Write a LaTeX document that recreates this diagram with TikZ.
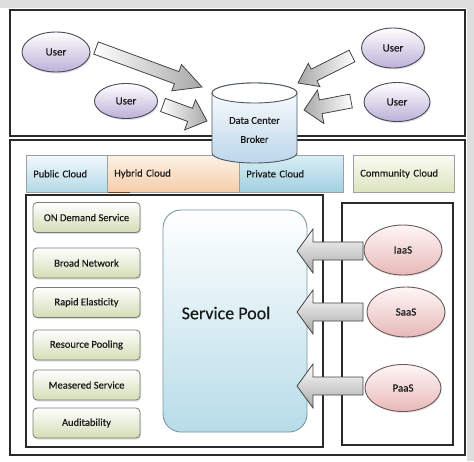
\documentclass[tikz,border=0pt]{standalone}
\usepackage{fontspec}
\setmainfont{Carlito}[FakeBold=0.35]
\usetikzlibrary{calc,shadows,shapes.geometric}
\definecolor{bggray}{HTML}{DEDEDE}
\definecolor{framec}{HTML}{2A2A2A}
\definecolor{txt}{HTML}{1A1A1A}
\definecolor{userbot}{HTML}{BCB0D8}
\definecolor{ellc}{HTML}{4A4A58}
\definecolor{svctop}{HTML}{FFF6F6}
\definecolor{svcbot}{HTML}{E8B8B8}
\definecolor{svcline}{HTML}{6A5A5A}
\definecolor{btnbot}{HTML}{D3DDB5}
\definecolor{btnline}{HTML}{7C7C74}
\definecolor{cloudline}{HTML}{9AA0A4}
\definecolor{pubtop}{HTML}{F2F9FC}
\definecolor{pubbot}{HTML}{B3D9E8}
\definecolor{hybtop}{HTML}{FDF1E6}
\definecolor{hybbot}{HTML}{F6CDA8}
\definecolor{privtop}{HTML}{D8EEF5}
\definecolor{privbot}{HTML}{A2D0E0}
\definecolor{comtop}{HTML}{FBFBF2}
\definecolor{combot}{HTML}{DCE4BE}
\definecolor{cylbot}{HTML}{BCD6EA}
\definecolor{cylline}{HTML}{4E5862}
\definecolor{poolbot}{HTML}{B7DCE8}
\definecolor{poolline}{HTML}{7A98A4}
\definecolor{arrgray}{HTML}{A8A8A8}
\definecolor{arrline}{HTML}{444444}
\newdimen\badx
\newdimen\bady
% block arrow from named coordinate #2 to named coordinate #3
% #4 shaft half width, #5 head half width, #6 head length
\newcommand\blockarrow[6]{%
  \pgfmathanglebetweenpoints{\pgfpointanchor{#2}{center}}{\pgfpointanchor{#3}{center}}%
  \let\baang\pgfmathresult
  \pgfextractx{\badx}{\pgfpointdiff{\pgfpointanchor{#2}{center}}{\pgfpointanchor{#3}{center}}}%
  \pgfextracty{\bady}{\pgfpointdiff{\pgfpointanchor{#2}{center}}{\pgfpointanchor{#3}{center}}}%
  \pgfmathsetmacro\balen{veclen(\badx,\bady)}%
  \begin{scope}[shift={(#2)}, rotate=\baang]
    \path[#1] (0,-#4) -- ({\balen-#6},-#4) -- ({\balen-#6},-#5) -- (\balen,0)
      -- ({\balen-#6},#5) -- ({\balen-#6},#4) -- (0,#4) -- cycle;
  \end{scope}}
\begin{document}
\begin{tikzpicture}[x=1pt,y=-1pt,
  frame/.style={draw=framec, line width=1.4pt},
  innerbox/.style={draw=framec, line width=1.1pt},
  userell/.style={ellipse, draw=ellc, line width=0.9pt, top color=white, bottom color=userbot,
    text=txt, font=\fontsize{11}{13}\selectfont, inner sep=0pt,
    drop shadow={opacity=0.25, shadow xshift=1pt, shadow yshift=-1.5pt}},
  svcell/.style={ellipse, draw=svcline, line width=0.9pt, top color=svctop, bottom color=svcbot,
    text=txt, font=\fontsize{11}{13}\selectfont, inner sep=0pt,
    drop shadow={opacity=0.2, shadow xshift=1pt, shadow yshift=-1.5pt}},
  btn/.style={rectangle, rounded corners=4pt, draw=btnline, line width=0.8pt, top color=white,
    bottom color=btnbot, minimum width=107pt, minimum height=30pt, inner sep=0pt,
    text=txt, font=\fontsize{10.5}{12}\selectfont,
    drop shadow={opacity=0.25, shadow xshift=1pt, shadow yshift=-1.5pt}},
  cloudseg/.style={rectangle, draw=cloudline, line width=0.6pt, anchor=north west,
    minimum height=37pt, inner xsep=7pt, inner ysep=0pt, align=left, text=txt,
    font=\fontsize{10.5}{12}\selectfont},
  arrR/.style={draw=arrline, line width=0.8pt, left color=white, right color=arrgray},
  arrL/.style={draw=arrline, line width=0.8pt, left color=arrgray, right color=white},
  arrS/.style={draw=arrline, line width=0.8pt, top color=white, bottom color=arrgray},
]
\useasboundingbox (0,0) rectangle (474,461);
\fill[white] (0,0) rectangle (474,461);
\fill[bggray] (0,0) rectangle (474,8);
\fill[bggray] (467,0) rectangle (474,461);

% frames
\draw[frame] (10,10) rectangle (465,136);
\draw[frame] (10,140) rectangle (465,455);
\draw[innerbox] (26,195) rectangle (323,447);
\draw[innerbox] (342,203) rectangle (453,445);

% cloud bar
\node[cloudseg, top color=pubtop, bottom color=pubbot, minimum width=81pt, text width=67pt] (pub) at (26,155) {Public Cloud};
\node[cloudseg, top color=hybtop, bottom color=hybbot, minimum width=132pt, text width=118pt] (hyb) at (107,155) {Hybrid Cloud};
\node[cloudseg, top color=privtop, bottom color=privbot, minimum width=104pt, text width=90pt] (priv) at (239,155) {Private Cloud};
\node[cloudseg, top color=comtop, bottom color=combot, minimum width=101pt, text width=87pt] (com) at (353,155) {Community Cloud};
\draw[brown!55!black, line width=1.5pt] (108,192.5) -- (130,192.5);

% users
\node[userell, minimum width=68pt, minimum height=40pt] (u1) at (56,52) {User};
\node[userell, minimum width=63pt, minimum height=35pt] (u2) at (126,101) {User};
\node[userell, minimum width=63pt, minimum height=40pt] (u3) at (393,48) {User};
\node[userell, minimum width=66pt, minimum height=39pt] (u4) at (397,102) {User};

% broker cylinder
\path[draw=cylline, line width=0.9pt, top color=white, bottom color=cylbot]
  (212,93) -- (212,153) arc[start angle=180, end angle=360, x radius=42.5pt, y radius=10pt]
  -- (297,93) arc[start angle=0, end angle=180, x radius=42.5pt, y radius=10pt] -- cycle;
\draw[draw=cylline, line width=0.9pt, fill=white] (254.5,93) ellipse [x radius=42.5pt, y radius=10pt];
\node[align=center, text=txt, font=\fontsize{10.5}{19}\selectfont] (db) at (254.5,130) {Data Center\\Broker};

% user arrows
\coordinate (t1) at (96,48);   \coordinate (h1) at (202,87);
\coordinate (t2) at (163,105); \coordinate (h2) at (207,121);
\coordinate (t3) at (352,56);  \coordinate (h3) at (298,83);
\coordinate (t4) at (351,101); \coordinate (h4) at (304,110);
\blockarrow{arrR}{t1}{h1}{6.5}{14}{27}
\blockarrow{arrR}{t2}{h2}{7}{16}{18}
\blockarrow{arrL}{t3}{h3}{6.5}{13}{18}
\blockarrow{arrL}{t4}{h4}{7}{17}{17}

% service pool
\node[rectangle, rounded corners=18pt, draw=poolline, line width=0.9pt, top color=white,
  bottom color=poolbot, minimum width=144pt, minimum height=222pt] (pool) at (235,321) {};
\node[text=txt, font=\fontsize{18}{20}\selectfont] (pooltxt) at (226,313) {Service Pool};

% characteristics
\node[btn] (b1) at (86.5,217.5) {ON Demand Service};
\node[btn] (b2) at (86.5,263) {Broad Network};
\node[btn] (b3) at (86.5,302.5) {Rapid Elasticity};
\node[btn] (b4) at (86.5,345) {Resource Pooling};
\node[btn] (b5) at (86.5,385) {Measered Service};
\node[btn] (b6) at (86.5,423) {Auditability};

% service models
\node[svcell, minimum width=78pt, minimum height=50pt] (iaas) at (403,250) {IaaS};
\node[svcell, minimum width=78pt, minimum height=50pt] (saas) at (406,312) {SaaS};
\node[svcell, minimum width=76pt, minimum height=47pt] (paas) at (403,388) {PaaS};

\coordinate (ti) at (363,251); \coordinate (hi) at (297,251);
\coordinate (ts) at (363,312); \coordinate (hs) at (297,312);
\coordinate (tp) at (363,386); \coordinate (hp) at (297,386);
\blockarrow{arrS}{ti}{hi}{9}{22}{16}
\blockarrow{arrS}{ts}{hs}{9}{22}{16}
\blockarrow{arrS}{tp}{hp}{9}{22}{16}
\end{tikzpicture}
\end{document}
